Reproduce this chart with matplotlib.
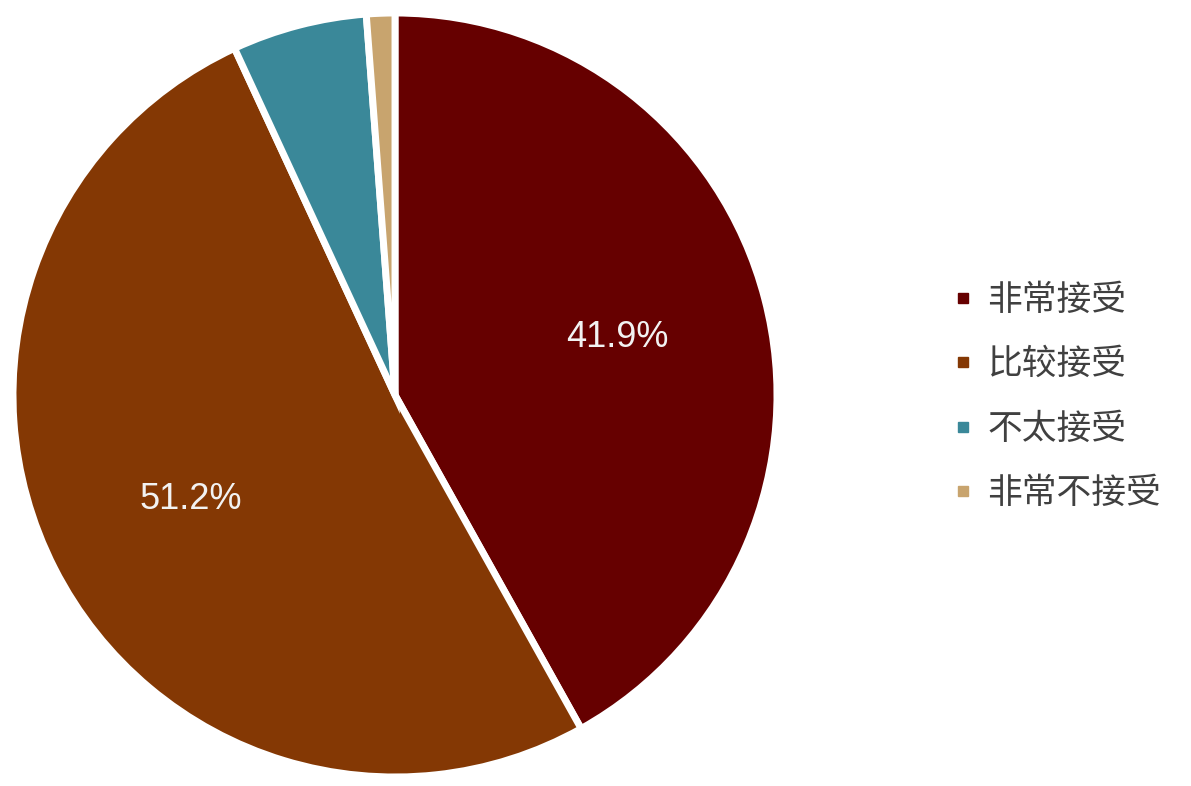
import numpy as np
import matplotlib.pyplot as plt

plt.rcParams['font.family'] = ['Noto Sans CJK SC', 'DejaVu Sans']

labels = ["非常接受", "比较接受", "不太接受", "非常不接受"]
values = [41.9, 51.2, 5.7, 1.2]
colors = ["#660000", "#843804", "#3A8899", "#C8A46E"]
shown = [0, 1]  # slices that carry a percentage label

W, H = 1191, 786
fig = plt.figure(figsize=(W / 100, H / 100), dpi=100)
# pie centre ~ (395, 395) px, radius ~ 382 px
ax = fig.add_axes([13 / W, 9 / H, 764 / W, 764 / H])

wedges, _ = ax.pie(values, colors=colors, startangle=90, counterclock=False,
                   wedgeprops=dict(edgecolor="white", linewidth=5))
ax.set_xlim(-1, 1)
ax.set_ylim(-1, 1)
ax.set_aspect("equal")

for i, (v, w) in enumerate(zip(values, wedges)):
    if i in shown:
        mid = np.deg2rad((w.theta1 + w.theta2) / 2)
        r = 0.6
        ax.text(r * np.cos(mid), r * np.sin(mid), f"{v}%", color="#F2F2F2",
                fontsize=26, ha="center", va="center", family="Liberation Sans")

handles = [plt.Line2D([], [], marker="s", linestyle="", color=c, markersize=7)
           for c in colors]
fig.legend(handles, labels, loc="center left", bbox_to_anchor=(0.765, 0.495),
           frameon=False, fontsize=25, labelspacing=0.85, handletextpad=0.1,
           handlelength=1.2, labelcolor="#404040")

fig.savefig("out.png", dpi=100)
